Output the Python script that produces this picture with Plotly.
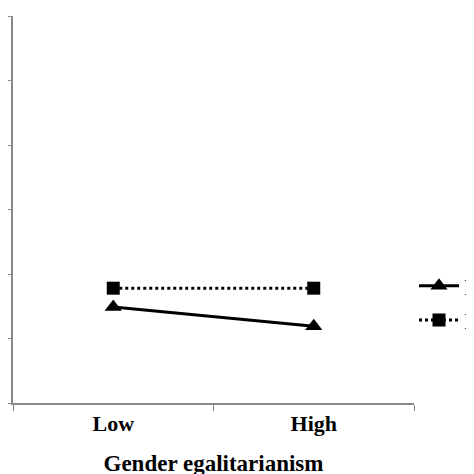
import plotly.graph_objects as go

# data (y axis labels are cropped in the reference)
levels = ["Low", "High"]
male = [1.49, 1.19]
female = [1.78, 1.78]

fig = go.Figure()
fig.add_trace(go.Scatter(
    x=levels, y=male, name="Male", mode="lines+markers",
    line=dict(color="black", width=3),
    marker=dict(symbol="triangle-up", size=15, color="black")
))
fig.add_trace(go.Scatter(
    x=levels, y=female, name="Female", mode="lines+markers",
    line=dict(color="black", width=3, dash="dot"),
    marker=dict(symbol="square", size=13, color="black")
))

fig.update_layout(
    width=474, height=474,
    margin=dict(l=5, r=68, t=8, b=79, autoexpand=False),
    paper_bgcolor="white", plot_bgcolor="white",
    font=dict(family="Liberation Serif", color="black"),
    legend=dict(x=1.0, y=0.36, xanchor="left", yanchor="top",
                font=dict(size=24), itemwidth=40, tracegroupgap=22,
                bgcolor="rgba(0,0,0,0)"),
)
fig.update_xaxes(
    type="category", tickson="boundaries", ticks="outside", ticklen=6,
    tickcolor="#888", showline=True, linecolor="#888", linewidth=1.5,
    tickfont=dict(size=22, family="Liberation Serif"),
    title=dict(text="<b>Gender egalitarianism</b>", font=dict(size=23), standoff=20),
    tickprefix="<b>", ticksuffix="</b>", range=[-0.5, 1.5]
)
fig.update_yaxes(
    range=[0, 6], dtick=1, showticklabels=False, showgrid=False,
    ticks="outside", ticklen=6, tickcolor="#888",
    showline=True, linecolor="#888", linewidth=1.5, zeroline=False
)

fig.write_html("out.html")
